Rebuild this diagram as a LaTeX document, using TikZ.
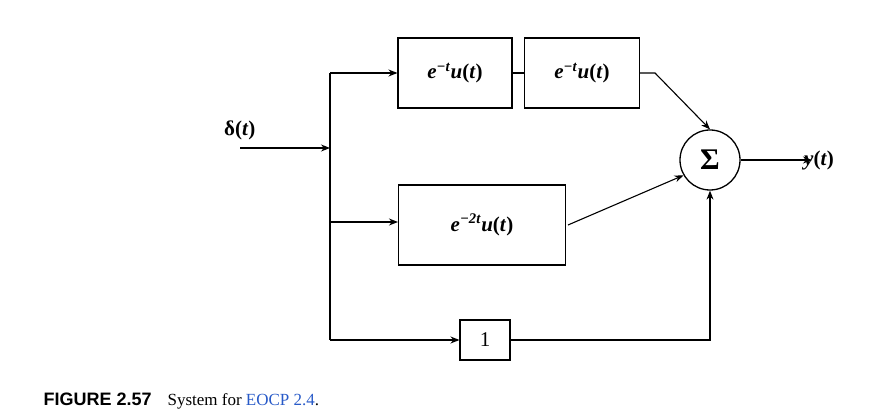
\documentclass[tikz,border=0pt]{standalone}
\usepackage{fontspec}
\setmainfont{Liberation Serif}
\newfontfamily\capsans{Liberation Sans}
\usetikzlibrary{arrows.meta}
\newcommand{\ee}[1]{\textit{e}\textsuperscript{\textit{#1}}\textit{u}(\textit{t})}
\begin{document}
\begin{tikzpicture}[x=1pt,y=-1pt,
  blk/.style={draw,line width=1.1pt,inner sep=0},
  wire/.style={line width=1.1pt},
  arr/.style={wire,-{Stealth[length=9pt,width=7pt]}},
  lbl/.style={font=\fontsize{21}{24}\selectfont\bfseries}]
\useasboundingbox (0,0) rectangle (880,419);
\node[blk,minimum width=114pt,minimum height=70pt,lbl] (b1) at (455,73) {\ee{−t}};
\node[blk,minimum width=115pt,minimum height=70pt,lbl] (b2) at (582,73) {\ee{−t}};
\node[blk,minimum width=167pt,minimum height=80pt,lbl] (b3) at (482,225) {\ee{−2t}};
\node[blk,minimum width=50pt,minimum height=40pt,font=\fontsize{21}{24}\selectfont] (b4) at (485,340) {1};
\node[draw,circle,line width=1.3pt,minimum size=60pt,inner sep=0,font=\fontsize{30}{32}\selectfont\bfseries] (s) at (710,160) {Σ};
\coordinate (in) at (240,148);
\coordinate (j) at (330,148);
\coordinate (jt) at (330,73);
\coordinate (jm) at (330,222);
\coordinate (jb) at (330,340);
\node[lbl,anchor=south west,inner sep=0] (dl) at (224,140) {δ(\textit{t})};
\coordinate (out) at (812,160);
\node[lbl,anchor=west,inner sep=0] (yl) at (804,160) {\textit{y}(\textit{t})};
\draw[arr] (in) -- (j);
\draw[wire] (jt) -- (jb);
\draw[arr] (jt) -- (b1.west);
\draw[arr] (jm) -- (jm -| b3.west);
\draw[arr] (jb) -- (b4.west);
\draw[wire] (b1.east) -- (b2.west);
\draw[arr] (b2.east) -- (655,73) -- (s.north);
\draw[arr] (568,225) -- (s.210);
\draw[arr] (b4.east) -- (710,340) -- (s.south);
\draw[arr] (s.east) -- (out);
\node[anchor=west,font=\fontsize{17}{19}\selectfont] (cap) at (40,401) {{\capsans\bfseries\fontsize{18}{19}\selectfont FIGURE 2.57}\hspace{16pt}System for \textcolor[RGB]{40,90,200}{EOCP 2.4}.};
\end{tikzpicture}
\end{document}
